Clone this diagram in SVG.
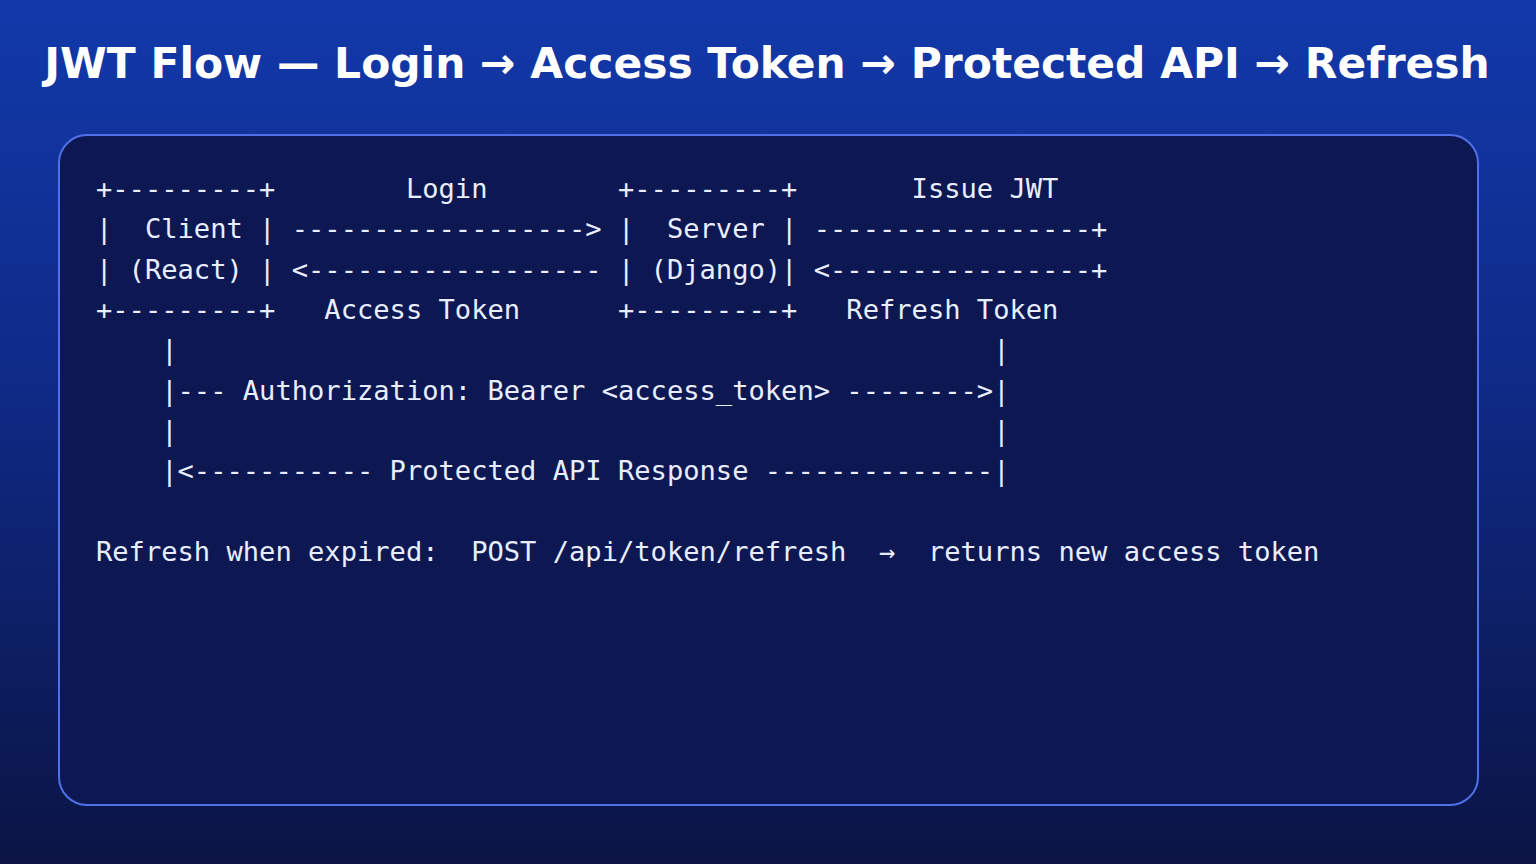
<svg xmlns="http://www.w3.org/2000/svg" width="1536" height="864" viewBox="0 0 1536 864">
  <defs>
    <linearGradient id="bg" x1="0" y1="0" x2="0" y2="1">
      <stop offset="0" stop-color="#1239aa"/>
      <stop offset="0.45" stop-color="#0f2a86"/>
      <stop offset="1" stop-color="#0b1444"/>
    </linearGradient>
  </defs>
  <style>
    .title { font-family: "DejaVu Sans", "Liberation Sans", sans-serif; font-weight: bold; font-size: 42.4px; fill: #ffffff; }
    .mono { font-family: "DejaVu Sans Mono", "Liberation Mono", monospace; font-size: 27.1px; fill: #e8eeff; white-space: pre; }
    .panel { fill: #0d1852; stroke: #4f70e8; stroke-width: 2; }
  </style>
  <rect x="0" y="0" width="1536" height="864" fill="url(#bg)"/>
  <g id="title">
    <text class="title" x="767" y="78" text-anchor="middle">JWT Flow — Login → Access Token → Protected API → Refresh</text>
  </g>
  <g id="panel">
    <rect class="panel" x="59" y="135" width="1419" height="670" rx="28" ry="28"/>
  </g>
  <g id="ascii" xml:space="preserve">
    <text class="mono" x="96" y="198">+---------+        Login        +---------+       Issue JWT</text>
    <text class="mono" x="96" y="238.35">|  Client | ------------------&gt; |  Server | -----------------+</text>
    <text class="mono" x="96" y="278.7">| (React) | &lt;------------------ | (Django)| &lt;----------------+</text>
    <text class="mono" x="96" y="319.05">+---------+   Access Token      +---------+   Refresh Token</text>
    <text class="mono" x="96" y="359.4">    |                                                  |</text>
    <text class="mono" x="96" y="399.75">    |--- Authorization: Bearer &lt;access_token&gt; --------&gt;|</text>
    <text class="mono" x="96" y="440.1">    |                                                  |</text>
    <text class="mono" x="96" y="480.45">    |&lt;----------- Protected API Response --------------|</text>
    <text class="mono" x="96" y="561.15">Refresh when expired:  POST /api/token/refresh  →  returns new access token</text>
  </g>
</svg>
